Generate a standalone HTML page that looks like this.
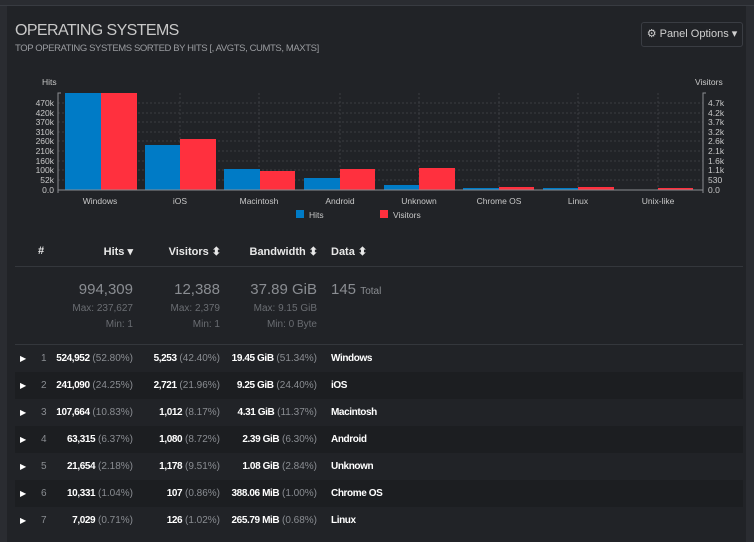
<!DOCTYPE html>
<html><head><meta charset="utf-8"><style>
*{margin:0;padding:0;box-sizing:border-box}
body{width:754px;height:542px;background:#2a2c31;font-family:"Liberation Sans",sans-serif;overflow:hidden;position:relative}
.main{position:absolute;left:7px;top:6px;width:739px;height:536px;background:#212327}
.topline{position:absolute;left:0;top:5px;width:754px;height:1px;background:#383b41}
.a{position:absolute;white-space:nowrap}
.btn{position:absolute;left:641px;top:22px;width:102px;height:25px;border:1px solid #3a3d43;border-radius:3px;color:#d0d0d0;font-size:11px;line-height:23px;text-align:center}
.row{position:absolute;left:15px;width:728px;height:27px;font-size:10px;color:#fff;line-height:27px}
.dk{background:#1c1e21}
.row span{position:absolute;white-space:nowrap}
.g{color:#8a8d92}
i{font-style:normal;color:#8a8d92}
.r{text-align:right}
b{font-weight:bold;letter-spacing:-0.4px}
</style></head><body>
<div class="topline"></div>
<div class="main"></div>
<div class="a" style="left:15px;top:22px;font-size:16px;color:#c8c8c8;letter-spacing:-0.6px">OPERATING SYSTEMS</div>
<div class="a" style="left:15px;top:43px;font-size:9.5px;color:#9a9ca0;letter-spacing:-0.4px">TOP OPERATING SYSTEMS SORTED BY HITS [, AVGTS, CUMTS, MAXTS]</div>
<div class="btn">⚙ Panel Options ▾</div>
<svg class="a" style="left:0;top:0" width="754" height="230" font-family="Liberation Sans" font-size="8.5" fill="#c8c8c8">
<text x="42" y="85">Hits</text><text x="695" y="85">Visitors</text>
<g stroke="#3a3d42" stroke-dasharray="2,2" stroke-width="1">
<line x1="58" x2="703" y1="103" y2="103"/><line x1="58" x2="703" y1="113" y2="113"/><line x1="58" x2="703" y1="122" y2="122"/><line x1="58" x2="703" y1="132" y2="132"/><line x1="58" x2="703" y1="141" y2="141"/><line x1="58" x2="703" y1="151" y2="151"/><line x1="58" x2="703" y1="161" y2="161"/><line x1="58" x2="703" y1="170" y2="170"/><line x1="58" x2="703" y1="180" y2="180"/>
<line x1="180" x2="180" y1="93" y2="190"/><line x1="259" x2="259" y1="93" y2="190"/><line x1="340" x2="340" y1="93" y2="190"/><line x1="419" x2="419" y1="93" y2="190"/><line x1="499" x2="499" y1="93" y2="190"/><line x1="578" x2="578" y1="93" y2="190"/><line x1="658" x2="658" y1="93" y2="190"/>
</g>
<g fill="#007bc6">
<rect x="65" y="93" width="36" height="97"/><rect x="145" y="145" width="35" height="45"/><rect x="224" y="169" width="36" height="21"/><rect x="304" y="178" width="36" height="12"/><rect x="384" y="185" width="35" height="5"/><rect x="463" y="188" width="36" height="2"/><rect x="543" y="188" width="35" height="2"/>
</g>
<g fill="#ff303e">
<rect x="101" y="93" width="36" height="97"/><rect x="180" y="139" width="36" height="51"/><rect x="260" y="171" width="35" height="19"/><rect x="340" y="169" width="35" height="21"/><rect x="419" y="168" width="36" height="22"/><rect x="499" y="187" width="35" height="3"/><rect x="578" y="187" width="36" height="3"/><rect x="658" y="188" width="35" height="2"/>
</g>
<g stroke="#8a8d92" fill="none"><path d="M61 93H58V190H703V93H706"/><line x1="58" x2="58" y1="190" y2="193"/><line x1="703" x2="703" y1="190" y2="193"/></g>
<g text-anchor="end"><text x="54" y="106">470k</text><text x="54" y="116">420k</text><text x="54" y="125">370k</text><text x="54" y="135">310k</text><text x="54" y="144">260k</text><text x="54" y="154">210k</text><text x="54" y="164">160k</text><text x="54" y="173">100k</text><text x="54" y="183">52k</text><text x="54" y="193">0.0</text></g>
<g><text x="708" y="106">4.7k</text><text x="708" y="116">4.2k</text><text x="708" y="125">3.7k</text><text x="708" y="135">3.2k</text><text x="708" y="144">2.6k</text><text x="708" y="154">2.1k</text><text x="708" y="164">1.6k</text><text x="708" y="173">1.1k</text><text x="708" y="183">530</text><text x="708" y="193">0.0</text></g>
<g text-anchor="middle"><text x="100" y="204">Windows</text><text x="180" y="204">iOS</text><text x="259" y="204">Macintosh</text><text x="340" y="204">Android</text><text x="419" y="204">Unknown</text><text x="499" y="204">Chrome OS</text><text x="578" y="204">Linux</text><text x="658" y="204">Unix-like</text></g>
<rect x="296" y="210" width="8" height="8" fill="#007bc6"/><text x="309" y="218">Hits</text>
<rect x="380" y="210" width="8" height="8" fill="#ff303e"/><text x="393" y="218">Visitors</text>
</svg>
<div class="a" style="left:38px;top:245px;font-size:11px;color:#e8e8e8;font-weight:bold">#</div>
<div class="a r" style="left:60px;width:73px;top:245px;font-size:11px;color:#e8e8e8;font-weight:bold">Hits ▾</div>
<div class="a r" style="left:140px;width:81px;top:245px;font-size:11px;color:#e8e8e8;font-weight:bold">Visitors ⬍</div>
<div class="a r" style="left:230px;width:88px;top:245px;font-size:11px;color:#e8e8e8;font-weight:bold">Bandwidth ⬍</div>
<div class="a" style="left:331px;top:245px;font-size:11px;color:#e8e8e8;font-weight:bold">Data ⬍</div>
<div class="a" style="left:15px;top:266px;width:728px;height:1px;background:#34373c"></div>
<div class="a r" style="left:40px;width:93px;top:281px;font-size:15px;color:#8a8d92">994,309</div>
<div class="a r" style="left:130px;width:90px;top:281px;font-size:15px;color:#8a8d92">12,388</div>
<div class="a r" style="left:220px;width:97px;top:281px;font-size:15px;color:#8a8d92">37.89 GiB</div>
<div class="a" style="left:331px;top:281px;font-size:15px;color:#8a8d92">145 <span style="font-size:10px">Total</span></div>
<div class="a r" style="left:40px;width:93px;top:301px;font-size:10px;color:#6a6d72;line-height:16px">Max: 237,627<br>Min: 1</div>
<div class="a r" style="left:130px;width:90px;top:301px;font-size:10px;color:#6a6d72;line-height:16px">Max: 2,379<br>Min: 1</div>
<div class="a r" style="left:220px;width:97px;top:301px;font-size:10px;color:#6a6d72;line-height:16px">Max: 9.15 GiB<br>Min: 0 Byte</div>
<div class="a" style="left:15px;top:344px;width:728px;height:1px;background:#34373c"></div>

<div class="row" style="top:345px"><span style="left:5px;font-size:8px">▶</span><span class="g" style="left:26px">1</span><span class="r" style="left:0;width:118px"><b>524,952</b> <i>(52.80%)</i></span><span class="r" style="left:90px;width:115px"><b>5,253</b> <i>(42.40%)</i></span><span class="r" style="left:180px;width:122px"><b>19.45 GiB</b> <i>(51.34%)</i></span><span style="left:316px"><b>Windows</b></span></div>
<div class="row dk" style="top:372px"><span style="left:5px;font-size:8px">▶</span><span class="g" style="left:26px">2</span><span class="r" style="left:0;width:118px"><b>241,090</b> <i>(24.25%)</i></span><span class="r" style="left:90px;width:115px"><b>2,721</b> <i>(21.96%)</i></span><span class="r" style="left:180px;width:122px"><b>9.25 GiB</b> <i>(24.40%)</i></span><span style="left:316px"><b>iOS</b></span></div>
<div class="row" style="top:399px"><span style="left:5px;font-size:8px">▶</span><span class="g" style="left:26px">3</span><span class="r" style="left:0;width:118px"><b>107,664</b> <i>(10.83%)</i></span><span class="r" style="left:90px;width:115px"><b>1,012</b> <i>(8.17%)</i></span><span class="r" style="left:180px;width:122px"><b>4.31 GiB</b> <i>(11.37%)</i></span><span style="left:316px"><b>Macintosh</b></span></div>
<div class="row dk" style="top:426px"><span style="left:5px;font-size:8px">▶</span><span class="g" style="left:26px">4</span><span class="r" style="left:0;width:118px"><b>63,315</b> <i>(6.37%)</i></span><span class="r" style="left:90px;width:115px"><b>1,080</b> <i>(8.72%)</i></span><span class="r" style="left:180px;width:122px"><b>2.39 GiB</b> <i>(6.30%)</i></span><span style="left:316px"><b>Android</b></span></div>
<div class="row" style="top:453px"><span style="left:5px;font-size:8px">▶</span><span class="g" style="left:26px">5</span><span class="r" style="left:0;width:118px"><b>21,654</b> <i>(2.18%)</i></span><span class="r" style="left:90px;width:115px"><b>1,178</b> <i>(9.51%)</i></span><span class="r" style="left:180px;width:122px"><b>1.08 GiB</b> <i>(2.84%)</i></span><span style="left:316px"><b>Unknown</b></span></div>
<div class="row dk" style="top:480px"><span style="left:5px;font-size:8px">▶</span><span class="g" style="left:26px">6</span><span class="r" style="left:0;width:118px"><b>10,331</b> <i>(1.04%)</i></span><span class="r" style="left:90px;width:115px"><b>107</b> <i>(0.86%)</i></span><span class="r" style="left:180px;width:122px"><b>388.06 MiB</b> <i>(1.00%)</i></span><span style="left:316px"><b>Chrome OS</b></span></div>
<div class="row" style="top:507px"><span style="left:5px;font-size:8px">▶</span><span class="g" style="left:26px">7</span><span class="r" style="left:0;width:118px"><b>7,029</b> <i>(0.71%)</i></span><span class="r" style="left:90px;width:115px"><b>126</b> <i>(1.02%)</i></span><span class="r" style="left:180px;width:122px"><b>265.79 MiB</b> <i>(0.68%)</i></span><span style="left:316px"><b>Linux</b></span></div>
</body></html>
